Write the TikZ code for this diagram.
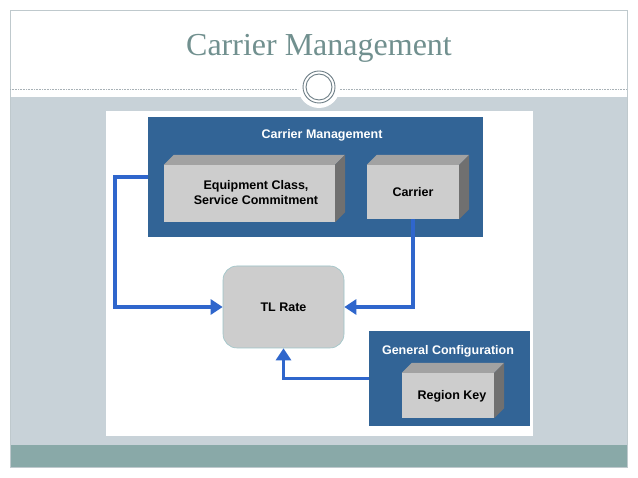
\documentclass[tikz,border=0pt]{standalone}
\usepackage{fontspec}
\setmainfont{Liberation Serif}
\newfontfamily\arialf{Liberation Sans}
\usetikzlibrary{arrows.meta,calc}
\definecolor{slideborder}{HTML}{BFC9CD}
\definecolor{greyband}{HTML}{C8D2D8}
\definecolor{tealband}{HTML}{89A9A8}
\definecolor{titlecol}{HTML}{71908F}
\definecolor{ringcol}{HTML}{6E7E86}
\definecolor{boxblue}{HTML}{326496}
\definecolor{connblue}{HTML}{2F66CC}
\definecolor{frontgrey}{HTML}{CDCDCD}
\definecolor{topgrey}{HTML}{A2A2A2}
\definecolor{sidegrey}{HTML}{707070}
\definecolor{tlborder}{HTML}{9CC4C8}
\tikzset{
  bluebox/.style={fill=boxblue, draw=none, inner sep=0pt},
  boxtitle/.style={text=white, font=\arialf\bfseries\fontsize{12.5}{14}\selectfont},
  front/.style={fill=frontgrey, draw=none, inner sep=0pt, align=center,
    font=\arialf\bfseries\fontsize{12.5}{15}\selectfont},
  tlbox/.style={fill=frontgrey, draw=tlborder, line width=0.6pt, rounded corners=14pt,
    inner sep=0pt, font=\arialf\bfseries\fontsize{12.5}{15}\selectfont},
  conn/.style={draw=connblue, line width=3.5pt, -{Triangle[length=12pt,width=15pt]}},
  topface/.style={fill=topgrey},
  sideface/.style={fill=sidegrey},
}
\newcommand{\cubefaces}[1]{%
  \fill[topface] (#1.north west) -- ([shift={(10pt,10pt)}]#1.north west)
     -- ([shift={(10pt,10pt)}]#1.north east) -- (#1.north east) -- cycle;
  \fill[sideface] (#1.north east) -- ([shift={(10pt,10pt)}]#1.north east)
     -- ([shift={(10pt,10pt)}]#1.south east) -- (#1.south east) -- cycle;
}
\begin{document}
\begin{tikzpicture}[x=1pt,y=-1pt]
\useasboundingbox (0,0) rectangle (638,478);
% slide
\fill[white] (0,0) rectangle (638,478);
\fill[greyband] (10,97) rectangle (627,445);
\fill[tealband] (10,445) rectangle (627,467);
\draw[slideborder, line width=0.8pt] (10,10) rectangle (627,467);
\draw[ringcol!60, line width=0.6pt, densely dotted] (10,89) -- (627,89);
\fill[white] (319,87) circle (21);
\draw[ringcol, line width=0.9pt] (319,87) circle (16);
\draw[ringcol, line width=0.9pt] (319,87) circle (13);
\node (title) at (319,48) {\color{titlecol}\fontsize{32}{36}\selectfont Carrier Management};
% white panel
\fill[white] (106,111) rectangle (533,436);
% carrier management box
\node[bluebox, minimum width=335pt, minimum height=120pt] (cm) at (315.5,177) {};
\node[boxtitle] (cmtitle) at (322,135) {Carrier Management};
\node[front, minimum width=171pt, minimum height=57pt] (equip) at (249.5,193.5) {};
\cubefaces{equip}
\node[front] (equiptext) at (256,193) {Equipment Class,\\Service Commitment};
\node[front, minimum width=92pt, minimum height=54pt] (carrier) at (413,192) {Carrier};
\cubefaces{carrier}
% TL Rate
\node[tlbox, minimum width=121pt, minimum height=82pt] (tl) at (283.5,307) {TL Rate};
% general configuration
\node[bluebox, minimum width=161pt, minimum height=95pt] (gc) at (449.5,378.5) {};
\node[boxtitle] (gctitle) at (448,351) {General Configuration};
\node[front, minimum width=92pt, minimum height=45pt] (region) at (448,395.5) {};
\cubefaces{region}
\node[front] (regiontext) at (452,396) {Region Key};
% connectors
\coordinate (lcorner) at (115,177);
\draw[conn] (cm.west) -- (lcorner) |- (tl.west);
\draw[conn] (carrier.south) |- (tl.east);
\draw[conn] (gc.west) -| (tl.south);
\end{tikzpicture}
\end{document}
